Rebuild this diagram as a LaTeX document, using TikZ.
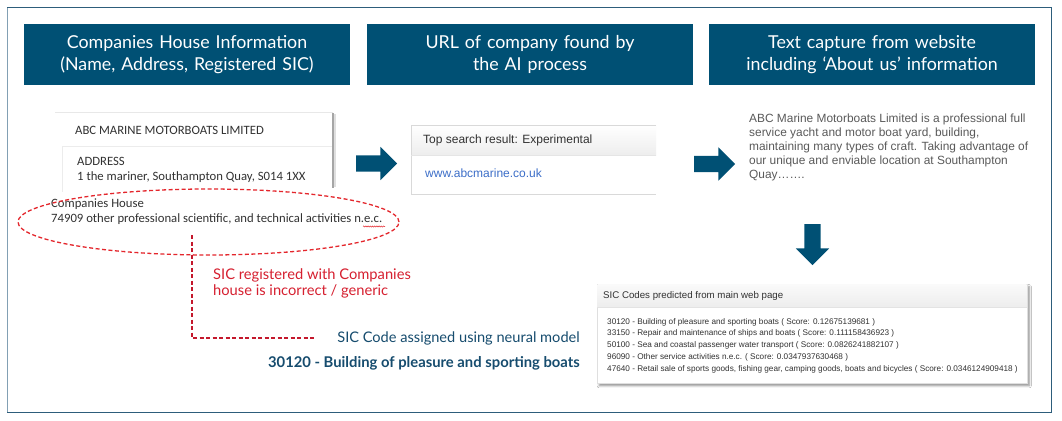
\documentclass[tikz,border=0pt]{standalone}
\usepackage{fontspec}
\setmainfont{Liberation Sans}
\newfontfamily\lato{Lato}
\newfontfamily\carl{Carlito}
\usetikzlibrary{shapes.arrows,shapes.geometric,decorations.pathmorphing,shadows.blur}
\definecolor{hb}{RGB}{0,80,116}
\definecolor{frame}{RGB}{45,93,123}
\definecolor{frameleft}{RGB}{130,160,180}
\definecolor{redd}{RGB}{228,38,44}
\definecolor{redline}{RGB}{196,24,44}
\definecolor{redt}{RGB}{214,32,48}
\definecolor{bluet}{RGB}{22,76,110}
\definecolor{urlblue}{RGB}{60,110,200}
\definecolor{txtgray}{RGB}{90,90,90}
\definecolor{dark}{RGB}{50,50,50}
\begin{document}
\begin{tikzpicture}[x=1pt,y=-1pt,
  header/.style={fill=hb, text=white, minimum width=326pt, minimum height=61pt,
    text width=320pt, align=center, inner sep=0pt,
    font=\lato\fontsize{17.8}{21.5}\selectfont},
  barrow/.style={single arrow, fill=hb, draw=none, inner xsep=0pt, inner ysep=8pt,
    text height=0pt, text depth=0pt, minimum height=41pt,
    single arrow head extend=8.5pt, single arrow tip angle=90},
  chtext/.style={anchor=west, inner sep=0pt, text=dark, font=\carl\fontsize{12.7}{14}\selectfont},
  webtext/.style={anchor=west, inner sep=0pt, text=dark, font=\fontsize{12}{14}\selectfont},
  codetext/.style={anchor=west, inner sep=0pt, text=dark, font=\fontsize{8.2}{9}\selectfont},
  reddash/.style={draw=redd, line width=1.3pt, dash pattern=on 4pt off 2.5pt}
]
\useasboundingbox (0,0) rectangle (1062,420);
\fill[white] (0,0) rectangle (1062,420);
% outer frame
\draw[frame, line width=1.2pt] (7.5,7.5) rectangle (1051.5,412.5);
\draw[frameleft, line width=1.2pt] (7.5,8) -- (7.5,412);

% headers
\node[header] (h1) at (187,54.5) {Companies House Information\\(Name, Address, Registered SIC)};
\node[header] (h2) at (530,54.5) {URL of company found by\\the AI process};
\node[header] (h3) at (872,54.5) {Text capture from website\\including ‘About us’ information};

% card 1 (Companies House screenshot)
\fill[white] (55,112) rectangle (333,192);
\draw[gray!18] (55,112.5) -- (333,112.5);
\draw[gray!15] (62,146) -- (332,146);
\draw[gray!15] (62,146) -- (62,192);
\fill[gray!70] (331.5,113) rectangle (334,188);
\fill[gray!25] (334,114) rectangle (336,187);
\node[chtext] (coname) at (75,130) {ABC MARINE MOTORBOATS LIMITED};
\node[chtext] (addrh) at (77,161) {ADDRESS};
\node[chtext] (addr) at (77,177) {1 the mariner, Southampton Quay, S014 1XX};
\node[chtext] (chh) at (51,204) {Companies House};
\node[chtext] (oldsic) at (51,219.5) {74909 other professional scientific, and technical activities n.e.c.};
\draw[redd, line width=0.5pt, decorate, decoration={snake, segment length=2.2pt, amplitude=0.6pt}]
  (363,226.5) -- (385,226.5);

% dashed ellipse round the registered SIC
\node[ellipse, reddash, minimum width=381pt, minimum height=66pt, inner sep=0pt] (ell) at (208.5,222) {};

% red comment
\node[anchor=north west, inner sep=0pt, text=redt, align=left,
  font=\lato\fontsize{14.7}{16.5}\selectfont] (bad) at (213,268)
  {SIC registered with Companies\\house is incorrect / generic};

% neural model result
\node[anchor=east, inner sep=0pt, text=bluet, font=\lato\fontsize{14.6}{16}\selectfont] (neural) at (580,338) {SIC Code assigned using neural model};
\node[anchor=east, inner sep=0pt, text=bluet, font=\lato\bfseries\fontsize{14.8}{16}\selectfont] (newcode) at (580,363) {30120 - Building of pleasure and sporting boats};
\coordinate (c1) at (192,235);
\coordinate (c2) at (314,338);
\draw[draw=redline, line width=1.3pt, dash pattern=on 4pt off 2.5pt] (c1) |- (c2);

% arrows
\node[barrow] (a1) at (372.5,163.5) {};
\node[barrow] (a2) at (710.5,164) {};
\node[barrow, rotate=-90] (a3) at (812.5,240.5) {};

% card 2 (search result)
\fill[white] (411,125) rectangle (656,194);
\shade[top color=white, bottom color=gray!14] (411,125) rectangle (656,155);
\draw[gray!30] (656,125) -- (411,125) -- (411,194) -- (656,194);
\draw[gray!20] (411,155) -- (656,155);
\node[webtext] (top) at (423,140) {Top search result: Experimental};
\node[webtext, text=urlblue] (url) at (425,173) {www.abcmarine.co.uk};

% about text
\node[anchor=north west, inner sep=0pt, align=left, text=txtgray,
  font=\fontsize{11.9}{14}\selectfont] (about) at (749,113.5)
  {ABC Marine Motorboats Limited is a professional full\\
   service yacht and motor boat yard, building,\\
   maintaining many types of craft. Taking advantage of\\
   our unique and enviable location at Southampton\\
   Quay…….};

% card 3 (predicted SIC codes)
\node[anchor=north west, draw=gray!25, fill=white, minimum width=430pt, minimum height=99pt,
  inner sep=0pt, blur shadow={shadow xshift=2pt, shadow yshift=-2.5pt, shadow blur steps=6, shadow opacity=45}]
  (card3) at (597,284) {};
\shade[top color=gray!4, bottom color=gray!14] (597.5,284.5) rectangle (1026.5,307);
\draw[gray!22] (597.5,307) -- (1026.5,307);
\node[anchor=west, inner sep=0pt, text=dark, font=\fontsize{9.7}{11}\selectfont] (c3h) at (603,295.5) {SIC Codes predicted from main web page};
\node[codetext] (l1) at (607,322) {30120 - Building of pleasure and sporting boats ( Score: 0.12675139681 )};
\node[codetext] (l2) at (607,333.75) {33150 - Repair and maintenance of ships and boats ( Score: 0.111158436923 )};
\node[codetext] (l3) at (607,345.5) {50100 - Sea and coastal passenger water transport ( Score: 0.0826241882107 )};
\node[codetext] (l4) at (607,357.25) {96090 - Other service activities n.e.c. ( Score: 0.0347937630468 )};
\node[codetext] (l5) at (607,369) {47640 - Retail sale of sports goods, fishing gear, camping goods, boats and bicycles ( Score: 0.0346124909418 )};
\end{tikzpicture}
\end{document}
